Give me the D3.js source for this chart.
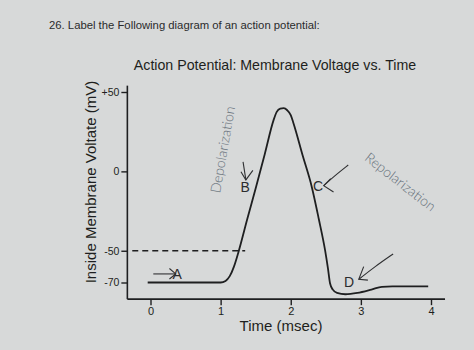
<!DOCTYPE html>
<html><head><meta charset="utf-8">
<script src="https://cdn.jsdelivr.net/npm/d3@7"></script>
<style>
html,body{margin:0;padding:0;background:#d7d9d9;}
svg{display:block;font-family:"Liberation Sans",Arial,sans-serif;}
</style></head>
<body><div id="chart"></div>
<script>
// Data: time (msec) and membrane voltage (mV)
const timeMs    = [-0.04, 1.0, 1.07, 1.13, 1.19, 1.25, 1.38, 1.505, 1.63, 1.755, 1.80, 1.85, 1.90, 1.95, 2.00, 2.04, 2.17, 2.30, 2.40, 2.49, 2.53, 2.56, 2.60, 2.66, 2.78, 2.95, 3.15, 3.30, 3.45, 3.96];
const voltageMv = [-70, -70, -69, -66, -60, -51.5, -30, -9.8, 11, 32.3, 37.5, 39.5, 39.8, 38.5, 35.5, 30.2, 10, -9.8, -30, -49.8, -61, -70.5, -74.5, -76.6, -77.4, -76.6, -74.5, -72.7, -72.5, -72.5];
const thresholdMv = -50;
const yTickValues = [50, 0, -50, -70];
const yTickLabels = ["+50", "0", "-50", "-70"];
const xTickValues = [0, 1, 2, 3, 4];
const heading = "26. Label the Following diagram of an action potential:";
const chartTitle = "Action Potential: Membrane Voltage vs. Time";
const xTitle = "Time (msec)";
const yTitle = "Inside Membrane Voltate (mV)";
const handLetters = [
  {label: "A", t: 0.38, v: -67.8},
  {label: "B", t: 1.35, v: -12.8},
  {label: "C", t: 2.39, v: -12.5},
  {label: "D", t: 2.83, v: -72.8}
];
const pencilNotes = [
  {label: "Depolarization", t: 1.05, v: 13.5, angle: -80},
  {label: "Repolarization", t: 3.55, v: -7.3, angle: 38}
];

const W = 474, H = 350;
const svg = d3.select("#chart").append("svg").attr("width", W).attr("height", H);

const x = d3.scaleLinear().domain([0, 4]).range([150.5, 431]);
const y = d3.scaleLinear().domain([-70, 50]).range([282.5, 92]);

const ink = "#1e1f20";
const pencil = "#66707a";

// heading
svg.append("text").attr("x", 49).attr("y", 29).attr("font-size", 11.3).attr("fill", "#2a2b2c").text(heading);
// title
svg.append("text").attr("x", 275).attr("y", 70).attr("text-anchor", "middle").attr("font-size", 14.2).attr("fill", ink).text(chartTitle);

// axes lines
const axX0 = -0.33, axX1 = 4.2, axY0 = -80.5, axY1 = 54;
svg.append("line").attr("x1", x(axX0)).attr("x2", x(axX0)).attr("y1", y(axY1)).attr("y2", y(axY0))
  .attr("stroke", ink).attr("stroke-width", 1.6);
svg.append("line").attr("x1", x(axX0)).attr("x2", x(axX1)).attr("y1", y(axY0)).attr("y2", y(axY0))
  .attr("stroke", ink).attr("stroke-width", 1.6);

const yAxis = d3.axisLeft(y).tickValues(yTickValues).tickSize(6).tickPadding(2)
  .tickFormat((d, i) => yTickLabels[i]);
const gy = svg.append("g").attr("transform", `translate(${x(axX0)},0)`).call(yAxis);
gy.select(".domain").remove();
gy.selectAll("line").attr("stroke", ink).attr("stroke-width", 1.4);
gy.selectAll("text").attr("font-size", 10.5).attr("fill", ink).attr("font-family", "'Liberation Sans',Arial,sans-serif");

const xAxis = d3.axisBottom(x).tickValues(xTickValues).tickSize(6).tickPadding(2).tickFormat(d3.format("d"));
const gx = svg.append("g").attr("transform", `translate(0,${y(axY0)})`).call(xAxis);
gx.select(".domain").remove();
gx.selectAll("line").attr("stroke", ink).attr("stroke-width", 1.4);
gx.selectAll("text").attr("font-size", 11).attr("fill", ink).attr("font-family", "'Liberation Sans',Arial,sans-serif");

// axis titles
svg.append("text").attr("x", 281).attr("y", 331).attr("text-anchor", "middle").attr("font-size", 15).attr("fill", ink).text(xTitle);
svg.append("text").attr("transform", `translate(96,182) rotate(-90)`).attr("text-anchor", "middle")
  .attr("font-size", 15).attr("fill", ink).text(yTitle);

// threshold dashed line
svg.append("line").attr("x1", x(-0.26)).attr("x2", x(1.35)).attr("y1", y(thresholdMv)).attr("y2", y(thresholdMv))
  .attr("stroke", ink).attr("stroke-width", 1.3).attr("stroke-dasharray", "6,4");

// action potential curve
const pts = timeMs.map((t, i) => [t, voltageMv[i]]);
svg.append("path").datum(pts)
  .attr("d", d3.line().x(d => x(d[0])).y(d => y(d[1])).curve(d3.curveMonotoneX))
  .attr("fill", "none").attr("stroke", ink).attr("stroke-width", 1.8).attr("stroke-linejoin", "round");

// hand-written letters
svg.selectAll("text.hl").data(handLetters).join("text").attr("class", "hl")
  .attr("x", d => x(d.t)).attr("y", d => y(d.v)).attr("text-anchor", "middle")
  .attr("font-size", 14).attr("fill", "#2b2c2e").text(d => d.label);

// hand-drawn arrows (data coordinates)
const arrows = [
  [[0.04, -64.6], [0.36, -64.6]],
  [[1.32, 6], [1.36, -5.4]],
  [[2.82, 4], [2.62, -3], [2.47, -9]],
  [[3.46, -52], [3.2, -60], [2.97, -68]]
];
const heads = [
  [[0.27, -61.2], [0.36, -64.6], [0.27, -67.8]],
  [[1.29, -0.2], [1.36, -5.4], [1.46, 0.6]],
  [[2.57, -4.5], [2.47, -9], [2.61, -13]],
  [[3.04, -60], [2.97, -68], [3.1, -68.5]]
];
const aLine = d3.line().x(d => x(d[0])).y(d => y(d[1])).curve(d3.curveBasis);
arrows.forEach(a => svg.append("path").attr("d", aLine(a)).attr("fill", "none").attr("stroke", "#2f3032").attr("stroke-width", 1.1));
const hLine = d3.line().x(d => x(d[0])).y(d => y(d[1]));
heads.forEach(a => svg.append("path").attr("d", hLine(a)).attr("fill", "none").attr("stroke", "#2f3032").attr("stroke-width", 1.1));

// pencil annotations
svg.selectAll("text.pn").data(pencilNotes).join("text").attr("class", "pn")
  .attr("transform", d => `translate(${x(d.t)},${y(d.v)}) rotate(${d.angle})`)
  .attr("text-anchor", "middle").attr("dominant-baseline", "middle")
  .attr("font-size", 14).attr("fill", pencil).attr("font-family", "Lato, sans-serif").attr("font-weight", 300)
  .text(d => d.label);
</script></body></html>
